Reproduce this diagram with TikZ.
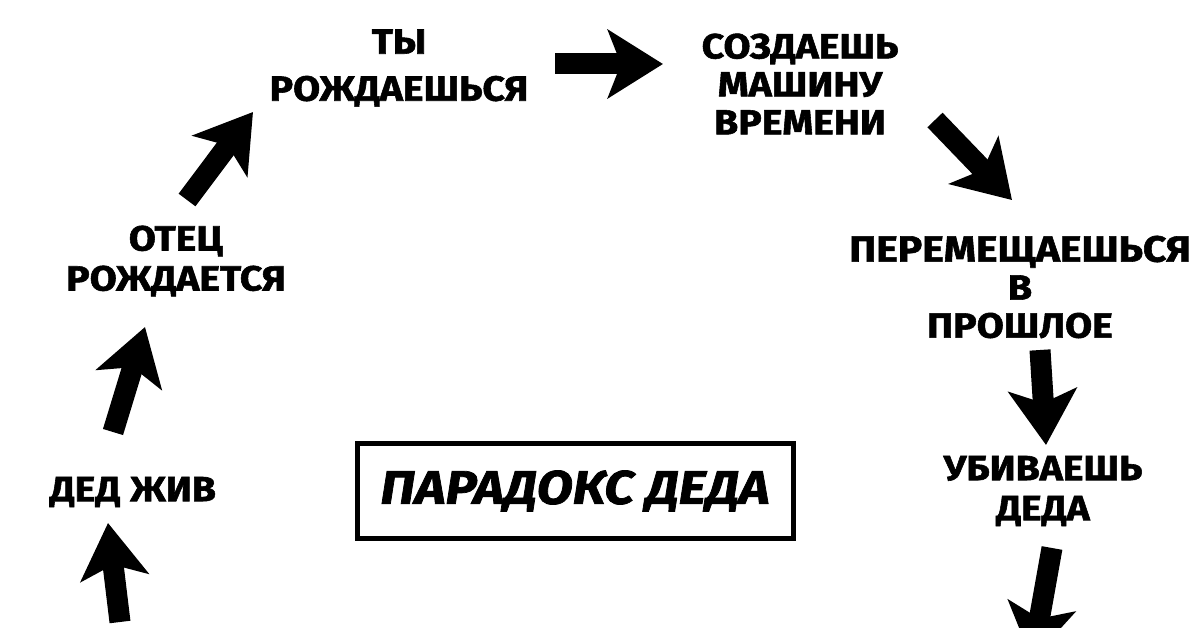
\documentclass[tikz,border=0pt]{standalone}
\usepackage{fontspec}
\setmainfont{Fira Sans}[BoldFont=*-Bold,BoldItalicFont=*-Bold Italic,BoldFeatures={FakeStretch=1.12,FakeBold=1.6},BoldItalicFeatures={FakeStretch=1.12,FakeBold=1.6}]
\usetikzlibrary{arrows.meta}
\tikzset{
 lbl/.style={align=center,inner sep=0pt,font=\fontsize{35}{38}\selectfont\bfseries},
 titlebox/.style={draw=black,line width=5pt,minimum width=436pt,minimum height=95pt,inner sep=0pt,font=\fontsize{47}{50}\selectfont\bfseries\itshape},
 arr/.style={line width=21pt,-{Stealth[length=55pt,width=68pt,inset=13pt]},draw=black,fill=black}
}
\begin{document}
\begin{tikzpicture}[x=1pt,y=-1pt]
\useasboundingbox (0,0) rectangle (1200,628);
\node[lbl] (ty) at (399,68) {ТЫ\\[9pt]РОЖДАЕШЬСЯ};
\node[lbl] (mash) at (800,84) {СОЗДАЕШЬ\\МАШИНУ\\ВРЕМЕНИ};
\node[lbl] (past) at (1020,287) {\fontsize{36.5}{38}\selectfont ПЕРЕМЕЩАЕШЬСЯ\\В\\ПРОШЛОЕ};
\node[lbl] (kill) at (1043,491) {УБИВАЕШЬ\\[2pt]ДЕДА};
\node[lbl] (alive) at (133,492) {ДЕД\hspace{10pt}ЖИВ};
\node[lbl] (father) at (176,261) {ОТЕЦ\\[2pt]РОЖДАЕТСЯ};
\node[titlebox] (title) at (575,491) {ПАРАДОКС ДЕДА};
\coordinate (bottomstart) at (120,622);
\coordinate (bottomend) at (1032,660);
\draw[arr] (bottomstart) -- ([shift={(-25,31)}]alive.center);
\draw[arr] ([shift={(-20,-60)}]alive.center) -- ([shift={(-31,66)}]father.center);
\draw[arr] ([shift={(11,-61)}]father.center) -- ([shift={(-146,44)}]ty.center);
\draw[arr] ([shift={(156,-4)}]ty.center) -- ([shift={(-137,-20)}]mash.center);
\draw[arr] ([shift={(135,36)}]mash.center) -- ([shift={(-8,-87)}]past.center);
\draw[arr] ([shift={(20,63)}]past.center) -- ([shift={(3,-46)}]kill.center);
\draw[arr] ([shift={(9,57)}]kill.center) -- (bottomend);
\end{tikzpicture}
\end{document}
